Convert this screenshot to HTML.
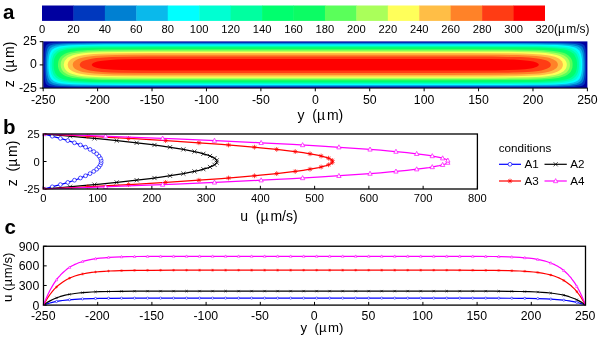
<!DOCTYPE html>
<html lang="en"><head><meta charset="utf-8"><title>Figure</title>
<style>html,body{margin:0;padding:0;background:#fff;}body{width:598px;height:337px;overflow:hidden;}</style>
</head><body>
<svg width="598" height="337" viewBox="0 0 598 337" style="display:block">
<rect x="0" y="0" width="598" height="337" fill="#ffffff"/>
<defs><clipPath id="cb"><rect x="42.75" y="133.4" width="435.25" height="56.20"/></clipPath><clipPath id="cc"><rect x="42.9" y="245.65" width="543.20" height="60.05"/></clipPath></defs>
<g>
<rect x="42.00" y="5.5" width="31.84" height="15.40" fill="#0000a0"/>
<rect x="73.44" y="5.5" width="31.84" height="15.40" fill="#0038be"/>
<rect x="104.88" y="5.5" width="31.84" height="15.40" fill="#0080d2"/>
<rect x="136.31" y="5.5" width="31.84" height="15.40" fill="#0ab9eb"/>
<rect x="167.75" y="5.5" width="31.84" height="15.40" fill="#00ffff"/>
<rect x="199.19" y="5.5" width="31.84" height="15.40" fill="#00ffd2"/>
<rect x="230.62" y="5.5" width="31.84" height="15.40" fill="#00ffa0"/>
<rect x="262.06" y="5.5" width="31.84" height="15.40" fill="#00ff6e"/>
<rect x="293.50" y="5.5" width="31.84" height="15.40" fill="#0cfc64"/>
<rect x="324.94" y="5.5" width="31.84" height="15.40" fill="#5aff5a"/>
<rect x="356.38" y="5.5" width="31.84" height="15.40" fill="#aaff5a"/>
<rect x="387.81" y="5.5" width="31.84" height="15.40" fill="#ffff5a"/>
<rect x="419.25" y="5.5" width="31.84" height="15.40" fill="#ffbe46"/>
<rect x="450.69" y="5.5" width="31.84" height="15.40" fill="#ff8228"/>
<rect x="482.12" y="5.5" width="31.84" height="15.40" fill="#ff3c14"/>
<rect x="513.56" y="5.5" width="31.44" height="15.40" fill="#ff0000"/>
</g>
<g font-family='"Liberation Sans", sans-serif' font-size="11.2" fill="#000" text-anchor="middle">
<text x="42.00" y="33.2">0</text>
<text x="73.44" y="33.2">20</text>
<text x="104.88" y="33.2">40</text>
<text x="136.31" y="33.2">60</text>
<text x="167.75" y="33.2">80</text>
<text x="199.19" y="33.2">100</text>
<text x="230.62" y="33.2">120</text>
<text x="262.06" y="33.2">140</text>
<text x="293.50" y="33.2">160</text>
<text x="324.94" y="33.2">180</text>
<text x="356.38" y="33.2">200</text>
<text x="387.81" y="33.2">220</text>
<text x="419.25" y="33.2">240</text>
<text x="450.69" y="33.2">260</text>
<text x="482.12" y="33.2">280</text>
<text x="513.56" y="33.2">300</text>
<text x="535.40" y="33.2" text-anchor="start">320<tspan font-size="11.9">(µ<tspan dx="1.4">m/s)</tspan></tspan></text>
</g>
<g>
<rect x="43.2" y="41.4" width="544.20" height="46.70" fill="#0000a0"/>
<path d="M563.1 87.2 544.3 87.3 509.2 87.4 110.5 87.3 71.4 87.2 61.5 87.0 55.1 86.8 50.6 86.3 49.2 86.0 48.2 85.6 47.2 85.1 46.4 84.3 45.9 83.4 45.5 82.5 45.1 80.8 44.8 78.7 44.5 72.1 44.4 61.3 44.7 52.7 45.1 48.9 45.7 46.5 46.1 45.6 46.6 44.9 47.2 44.4 47.9 44.0 49.1 43.5 50.1 43.3 53.6 42.8 58.6 42.5 66.5 42.4 85.8 42.2 123.9 42.1 541.8 42.2 561.2 42.3 572.5 42.6 576.5 42.8 579.0 43.0 581.0 43.4 582.4 43.9 583.4 44.4 584.0 44.9 584.5 45.6 584.9 46.6 585.3 47.7 585.6 49.1 586.0 53.4 586.1 57.8 586.2 63.5 586.1 74.3 585.9 77.5 585.6 80.1 585.2 82.0 584.7 83.4 584.0 84.6 583.1 85.3 582.0 85.8 580.0 86.3 577.5 86.6 574.0 86.9 563.1 87.2Z" fill="#0038be"/>
<path d="M546.3 86.5 489.4 86.6 117.5 86.6 80.3 86.4 69.4 86.2 62.0 85.9 58.6 85.7 55.6 85.4 53.6 85.0 51.8 84.6 50.6 84.1 49.4 83.4 48.4 82.5 47.7 81.5 47.2 80.3 46.6 78.5 46.2 76.1 45.9 73.6 45.7 70.0 45.6 66.0 45.7 61.8 45.8 57.8 46.3 52.9 46.7 50.8 47.1 49.4 47.7 48.1 48.4 47.0 49.1 46.3 50.1 45.6 51.6 45.0 53.1 44.6 57.1 43.9 63.0 43.5 71.9 43.2 92.7 43.0 132.8 42.9 486.9 42.9 541.8 43.0 560.7 43.3 567.1 43.5 571.6 43.8 575.0 44.1 578.0 44.7 580.0 45.4 581.5 46.3 582.4 47.3 583.0 48.2 583.5 49.4 584.0 51.0 584.4 53.1 584.6 55.5 584.9 61.8 584.9 69.6 584.7 73.1 584.4 75.9 584.0 78.2 583.6 79.9 582.9 81.4 582.2 82.5 581.5 83.2 580.9 83.6 580.0 84.1 579.0 84.5 576.5 85.1 573.5 85.6 569.1 85.9 563.6 86.2 546.3 86.5Z" fill="#0080d2"/>
<path d="M520.1 85.8 120.0 85.8 85.3 85.6 74.9 85.4 67.0 85.1 60.0 84.5 57.1 84.1 55.1 83.6 53.6 83.2 52.1 82.5 50.8 81.5 49.9 80.6 49.1 79.4 48.4 77.8 47.9 75.9 47.5 73.6 47.2 70.5 47.0 67.2 47.0 63.7 47.1 60.2 47.3 57.4 47.7 54.8 48.1 52.7 48.6 51.1 49.3 49.8 50.1 48.6 51.1 47.7 52.5 46.8 54.1 46.2 56.0 45.6 58.6 45.2 61.0 44.8 68.5 44.3 79.3 44.0 103.6 43.8 152.1 43.7 491.3 43.7 524.5 43.8 544.3 43.9 554.2 44.1 562.1 44.3 568.1 44.7 572.5 45.2 575.5 45.9 577.0 46.3 578.1 46.8 579.0 47.3 580.0 48.1 580.7 48.9 581.3 49.8 582.0 51.3 582.6 53.1 583.0 55.2 583.3 57.8 583.5 60.9 583.6 64.4 583.6 67.9 583.4 71.2 582.8 75.4 582.4 77.1 581.8 78.7 581.2 79.9 580.5 80.9 579.6 81.8 578.5 82.5 577.5 83.0 576.3 83.4 573.5 84.1 569.6 84.7 564.1 85.1 557.2 85.4 548.3 85.6 520.1 85.8Z" fill="#0ab9eb"/>
<path d="M535.9 84.8 479.9 85.0 131.3 85.0 93.2 84.8 81.3 84.6 72.9 84.3 65.0 83.8 61.7 83.4 59.0 82.9 57.1 82.5 55.1 81.8 53.6 81.0 52.5 80.1 51.4 78.9 50.5 77.5 49.8 75.9 49.2 73.8 48.8 71.2 48.5 68.4 48.4 65.3 48.5 62.1 48.7 59.2 49.0 56.7 49.5 54.5 50.2 52.7 51.1 51.0 52.0 49.8 53.1 48.9 54.6 48.0 56.1 47.4 58.1 46.8 60.5 46.3 63.5 45.9 67.0 45.5 71.4 45.2 82.3 44.9 105.1 44.6 149.7 44.5 484.4 44.5 537.9 44.7 548.8 44.9 557.2 45.1 563.6 45.5 568.6 46.0 572.0 46.7 575.0 47.6 576.0 48.0 577.2 48.7 578.1 49.4 579.0 50.3 579.8 51.5 580.5 52.9 581.1 54.5 581.5 56.4 581.9 58.8 582.1 61.3 582.2 64.2 582.1 67.0 582.0 69.6 581.7 71.7 581.4 73.6 580.9 75.4 580.4 76.8 579.7 78.2 578.8 79.4 577.8 80.4 577.0 81.0 576.0 81.5 573.5 82.5 570.6 83.1 566.6 83.7 561.7 84.1 555.2 84.4 546.8 84.7 535.9 84.8Z" fill="#00ffff"/>
<path d="M419.0 84.1 121.9 84.1 91.2 83.9 81.3 83.6 73.4 83.3 66.0 82.6 63.1 82.2 60.8 81.8 59.0 81.3 57.1 80.6 55.6 79.8 54.1 78.7 53.0 77.5 52.1 76.1 51.4 74.5 50.8 72.6 50.4 70.5 50.1 67.9 50.0 65.1 50.0 62.3 50.3 59.2 50.9 56.7 51.6 54.4 52.5 52.7 53.6 51.3 55.1 50.0 57.1 48.9 59.0 48.2 61.8 47.5 65.0 47.0 68.9 46.5 73.9 46.2 86.8 45.7 106.1 45.5 161.5 45.4 488.9 45.4 527.0 45.5 547.8 45.8 557.2 46.2 564.1 46.8 569.1 47.6 571.1 48.1 573.0 48.7 574.5 49.4 575.9 50.3 577.0 51.3 577.9 52.4 578.7 53.8 579.3 55.2 579.9 57.1 580.2 59.0 580.5 61.3 580.6 63.9 580.6 66.5 580.4 68.9 580.1 71.2 579.7 73.1 579.0 75.0 578.4 76.4 577.5 77.6 576.5 78.7 575.3 79.7 574.0 80.3 572.5 81.0 570.8 81.5 566.6 82.4 561.7 83.0 554.7 83.4 546.3 83.7 534.9 83.9 502.7 84.1 419.0 84.1Z" fill="#00ffd2"/>
<path d="M502.7 83.2 134.3 83.2 99.7 83.0 88.8 82.8 80.3 82.5 71.4 82.0 68.0 81.6 65.0 81.1 62.6 80.6 60.5 80.0 58.6 79.2 57.1 78.3 55.7 77.3 54.6 76.1 53.6 74.5 52.9 72.8 52.3 70.7 51.9 68.6 51.7 66.0 51.7 63.5 51.9 60.6 52.4 58.3 53.1 56.1 54.0 54.3 55.1 52.9 56.6 51.5 58.1 50.6 60.2 49.6 62.6 48.9 65.5 48.3 68.9 47.8 72.9 47.4 83.3 46.8 98.2 46.5 118.0 46.4 150.7 46.3 467.6 46.3 515.6 46.4 539.9 46.6 550.3 47.0 558.2 47.4 564.1 48.1 566.6 48.6 568.6 49.1 570.4 49.6 572.0 50.3 573.3 51.0 574.5 51.9 575.6 52.9 576.5 54.1 577.1 55.2 577.7 56.7 578.2 58.3 578.6 60.2 578.8 62.1 578.9 64.2 578.9 66.3 578.7 68.4 578.4 70.3 578.0 72.1 577.4 73.6 576.7 75.0 576.0 76.1 575.1 77.1 574.0 78.0 573.0 78.7 571.6 79.4 570.4 79.9 567.1 80.8 563.1 81.5 558.2 82.1 551.7 82.5 543.8 82.8 533.9 83.0 502.7 83.2Z" fill="#00ffa0"/>
<path d="M494.3 82.2 137.8 82.2 103.6 82.1 92.7 81.9 84.3 81.6 75.1 81.1 71.4 80.7 68.5 80.3 66.0 79.8 63.5 79.2 61.5 78.5 59.5 77.5 58.1 76.5 56.7 75.2 55.7 73.8 55.0 72.4 54.3 70.5 53.8 68.4 53.6 66.0 53.6 63.7 53.8 61.1 54.3 58.8 55.1 56.8 56.2 55.0 57.4 53.6 59.0 52.3 61.0 51.3 63.6 50.3 66.5 49.6 69.9 49.0 73.9 48.6 78.4 48.2 90.2 47.7 108.1 47.4 161.5 47.2 476.5 47.2 516.6 47.3 538.9 47.6 548.8 48.0 556.7 48.6 562.6 49.3 565.1 49.8 567.1 50.3 569.0 51.0 570.6 51.7 572.0 52.7 573.2 53.6 574.3 54.8 575.0 55.9 575.7 57.4 576.3 59.0 576.7 60.6 577.0 62.5 577.1 64.4 577.0 66.3 576.8 68.2 576.5 69.8 576.0 71.4 575.5 72.7 574.9 73.8 574.0 75.0 573.0 76.0 572.1 76.8 571.0 77.5 569.6 78.2 566.6 79.3 562.9 80.1 558.2 80.8 552.7 81.3 545.8 81.6 537.4 81.9 527.0 82.1 494.3 82.2Z" fill="#00ff6e"/>
<path d="M523.5 81.1 503.2 81.2 469.5 81.3 151.6 81.2 111.5 81.1 99.2 80.9 89.7 80.7 79.8 80.2 75.9 79.8 72.4 79.4 69.4 78.9 66.5 78.2 64.3 77.5 62.5 76.8 61.0 75.9 59.4 74.7 58.2 73.3 57.2 71.9 56.5 70.3 56.0 68.4 55.7 66.3 55.6 64.2 55.8 61.8 56.4 59.5 57.2 57.6 58.3 55.9 59.7 54.5 61.3 53.4 63.5 52.3 65.7 51.5 68.4 50.8 71.4 50.2 75.4 49.7 79.8 49.3 91.2 48.8 107.6 48.4 127.4 48.3 160.1 48.2 464.6 48.2 509.2 48.3 532.9 48.6 543.6 48.9 551.7 49.4 558.2 50.1 563.1 51.0 565.1 51.6 567.1 52.3 568.6 53.0 570.0 53.8 571.1 54.7 572.1 55.7 572.9 56.9 573.7 58.3 574.2 59.5 574.6 60.9 574.8 62.3 575.0 63.9 575.0 65.6 574.9 67.0 574.6 68.4 574.2 69.8 573.8 71.0 573.2 72.1 572.5 73.2 571.9 74.0 571.1 74.8 570.0 75.7 568.9 76.4 567.6 77.0 564.9 78.0 561.7 78.8 557.7 79.5 553.2 80.0 547.8 80.4 541.3 80.7 523.5 81.1Z" fill="#0cfc64"/>
<path d="M503.2 80.1 445.3 80.2 148.7 80.2 113.0 80.0 101.6 79.9 92.7 79.6 82.8 79.1 75.4 78.3 72.4 77.9 69.7 77.3 67.5 76.7 65.4 75.9 63.6 75.0 62.2 74.0 60.9 72.8 59.8 71.4 59.0 70.0 58.4 68.2 58.0 66.3 58.0 64.2 58.3 61.8 58.9 59.7 60.0 57.8 61.4 56.2 63.0 54.9 65.0 53.8 67.5 52.8 70.4 52.0 73.9 51.4 77.9 50.8 82.3 50.4 87.8 50.1 101.6 49.6 121.9 49.4 176.4 49.3 474.5 49.3 511.6 49.4 532.9 49.7 543.3 50.1 551.3 50.7 557.4 51.5 559.9 52.0 562.1 52.5 564.0 53.1 565.7 53.8 567.4 54.8 568.7 55.7 569.9 56.9 570.8 58.1 571.6 59.5 572.2 61.1 572.4 62.3 572.6 63.7 572.6 65.1 572.5 66.5 572.3 67.9 571.9 69.1 571.4 70.3 570.8 71.4 570.1 72.4 569.2 73.3 567.4 74.7 565.1 75.9 563.6 76.5 561.8 77.1 558.2 77.9 554.2 78.5 549.3 79.0 542.8 79.4 535.9 79.7 527.5 79.9 503.2 80.1Z" fill="#5aff5a"/>
<path d="M505.2 78.9 449.7 79.0 154.1 79.0 118.0 78.9 106.1 78.7 97.2 78.5 86.8 78.0 79.3 77.3 76.0 76.8 73.4 76.3 70.9 75.7 68.7 75.0 66.6 74.0 65.1 73.1 63.6 71.9 62.6 70.7 61.7 69.3 61.1 67.7 60.7 66.0 60.7 64.4 60.9 62.3 61.3 61.1 61.7 60.2 62.3 59.2 63.0 58.3 64.4 56.9 66.2 55.7 68.5 54.6 71.4 53.6 74.4 53.0 77.9 52.4 82.3 51.9 86.8 51.5 92.7 51.2 107.6 50.7 129.4 50.5 184.8 50.5 473.0 50.5 509.2 50.6 530.0 50.9 540.4 51.3 548.3 51.9 554.7 52.7 557.2 53.2 559.7 53.8 561.7 54.4 563.6 55.2 564.8 55.9 566.2 56.9 567.4 58.1 568.3 59.2 569.1 60.6 569.6 62.1 569.8 63.2 569.9 64.4 569.9 65.6 569.8 66.7 569.5 67.7 569.1 68.9 568.6 69.8 568.0 70.7 567.2 71.7 566.5 72.4 564.4 73.8 561.9 75.0 559.0 75.9 555.7 76.6 551.7 77.3 546.9 77.8 541.3 78.2 534.9 78.5 527.0 78.7 505.2 78.9Z" fill="#aaff5a"/>
<path d="M479.9 77.8 154.6 77.8 120.9 77.6 101.1 77.3 91.1 76.8 83.3 76.2 79.8 75.7 76.9 75.2 74.4 74.6 72.4 74.0 70.4 73.2 68.7 72.4 67.3 71.4 66.0 70.2 65.0 68.9 64.3 67.4 63.9 66.0 63.8 64.4 64.2 62.5 64.5 61.6 65.0 60.6 65.5 59.9 66.3 59.0 68.0 57.6 70.1 56.4 72.9 55.3 75.9 54.5 79.8 53.8 83.8 53.3 88.8 52.8 94.7 52.5 101.7 52.2 119.5 51.9 148.2 51.7 473.5 51.7 507.2 51.8 527.5 52.2 537.4 52.5 545.4 53.1 551.7 53.9 554.2 54.4 556.7 55.0 558.8 55.7 560.7 56.5 562.2 57.4 563.6 58.4 564.7 59.5 565.6 60.7 566.3 62.1 566.7 63.5 566.8 64.6 566.7 65.8 566.5 66.7 566.1 67.9 565.6 68.9 564.9 69.8 564.1 70.7 563.3 71.4 562.2 72.1 561.0 72.8 558.2 74.0 554.8 75.0 551.3 75.6 546.8 76.2 541.8 76.7 535.9 77.0 528.9 77.3 510.2 77.6 479.9 77.8Z" fill="#ffff5a"/>
<path d="M488.9 76.4 161.5 76.4 126.9 76.3 106.6 76.0 96.2 75.5 88.3 74.9 81.8 74.1 79.1 73.6 76.9 73.0 74.9 72.3 72.9 71.5 71.4 70.6 70.0 69.6 69.0 68.4 68.3 67.2 67.9 66.0 67.7 64.6 68.0 63.0 68.4 62.1 68.8 61.3 70.0 59.9 70.9 59.2 72.0 58.5 74.4 57.4 77.2 56.4 80.3 55.7 84.4 55.0 88.8 54.5 93.7 54.1 99.7 53.8 106.6 53.5 124.4 53.2 151.6 53.1 469.1 53.1 502.2 53.2 522.5 53.5 532.4 53.9 540.9 54.4 547.3 55.2 550.3 55.7 552.5 56.2 554.7 56.8 556.7 57.6 558.2 58.3 559.7 59.2 560.8 60.2 561.8 61.3 562.4 62.5 562.8 63.7 562.9 64.6 562.8 65.6 562.6 66.4 562.3 67.2 561.8 68.2 561.2 68.9 559.7 70.3 557.7 71.5 555.2 72.5 552.2 73.4 548.8 74.1 544.4 74.7 539.9 75.2 534.4 75.5 528.5 75.8 512.6 76.2 488.9 76.4Z" fill="#ffbe46"/>
<path d="M499.3 74.7 447.3 74.9 173.9 74.8 135.3 74.8 113.5 74.5 103.1 74.1 94.7 73.6 87.8 72.8 82.7 71.9 80.3 71.3 78.4 70.6 76.7 69.8 75.2 68.9 74.1 67.9 73.4 67.0 72.9 65.8 72.7 64.6 72.9 63.7 73.1 63.0 73.5 62.3 74.1 61.6 75.5 60.4 77.6 59.2 80.1 58.3 83.3 57.5 87.3 56.7 91.6 56.2 96.2 55.8 101.6 55.4 116.0 55.0 135.3 54.7 167.5 54.7 465.6 54.7 498.3 54.8 517.6 55.0 528.0 55.4 536.4 55.9 542.8 56.7 547.8 57.6 549.8 58.1 551.7 58.7 553.5 59.5 554.7 60.2 556.0 61.1 556.9 62.1 557.5 63.0 557.8 64.2 557.9 64.9 557.8 65.6 557.3 66.7 556.5 67.9 555.1 69.1 553.5 70.0 551.2 71.0 548.8 71.7 545.3 72.4 542.3 72.9 538.4 73.4 529.0 74.1 516.3 74.5 499.3 74.7Z" fill="#ff8228"/>
<path d="M496.8 72.8 445.8 73.0 184.8 73.0 143.7 72.9 120.9 72.7 110.5 72.4 101.8 71.9 95.2 71.3 89.9 70.5 87.8 70.0 85.3 69.3 83.5 68.6 82.3 68.0 81.1 67.2 80.4 66.5 79.9 65.6 79.8 64.6 79.9 63.9 80.3 63.2 81.3 62.1 83.0 61.1 85.3 60.2 88.3 59.4 91.7 58.7 96.2 58.1 100.6 57.7 111.5 57.1 126.9 56.7 147.7 56.6 183.8 56.5 459.6 56.5 491.3 56.6 510.6 56.9 520.6 57.1 528.8 57.6 535.4 58.2 540.7 59.0 542.8 59.5 544.8 60.0 546.6 60.6 548.1 61.3 549.2 62.1 550.0 62.8 550.5 63.5 550.8 64.4 550.8 65.1 550.7 65.6 550.2 66.5 549.2 67.4 547.8 68.3 546.0 69.1 543.8 69.8 541.3 70.4 538.4 70.9 531.7 71.7 523.0 72.2 512.1 72.6 496.8 72.8Z" fill="#ff3c14"/>
<path d="M479.0 70.5 428.4 70.6 190.8 70.6 153.6 70.5 132.8 70.3 122.4 70.1 114.0 69.8 107.5 69.3 101.6 68.7 97.4 67.9 95.7 67.4 94.3 67.0 93.2 66.5 92.3 65.8 91.9 65.3 91.8 64.6 92.1 63.9 92.6 63.5 93.3 63.0 94.3 62.5 97.2 61.6 100.6 61.0 105.0 60.4 110.5 59.9 117.0 59.6 124.9 59.3 141.2 59.1 165.5 59.0 315.1 58.9 465.1 59.0 489.4 59.1 505.7 59.3 513.6 59.6 520.1 59.9 525.6 60.4 530.0 61.0 533.4 61.6 536.3 62.5 537.3 63.0 538.0 63.5 538.5 63.9 538.8 64.6 538.7 65.3 538.0 66.0 536.8 66.7 535.4 67.3 533.2 67.9 530.8 68.4 525.0 69.2 517.6 69.7 508.2 70.1 495.8 70.4 479.0 70.5Z" fill="#ff0000"/>
</g>
<g>
<line x1="42.80" y1="41.40" x2="42.80" y2="88.60" stroke="#111" stroke-width="0.9"/>
<line x1="42.40" y1="88.10" x2="587.80" y2="88.10" stroke="#111" stroke-width="1.0"/>
<line x1="43.20" y1="88.10" x2="43.20" y2="91.30" stroke="#000" stroke-width="1.0"/>
<line x1="97.62" y1="88.10" x2="97.62" y2="91.30" stroke="#000" stroke-width="1.0"/>
<line x1="152.04" y1="88.10" x2="152.04" y2="91.30" stroke="#000" stroke-width="1.0"/>
<line x1="206.46" y1="88.10" x2="206.46" y2="91.30" stroke="#000" stroke-width="1.0"/>
<line x1="260.88" y1="88.10" x2="260.88" y2="91.30" stroke="#000" stroke-width="1.0"/>
<line x1="315.30" y1="88.10" x2="315.30" y2="91.30" stroke="#000" stroke-width="1.0"/>
<line x1="369.72" y1="88.10" x2="369.72" y2="91.30" stroke="#000" stroke-width="1.0"/>
<line x1="424.14" y1="88.10" x2="424.14" y2="91.30" stroke="#000" stroke-width="1.0"/>
<line x1="478.56" y1="88.10" x2="478.56" y2="91.30" stroke="#000" stroke-width="1.0"/>
<line x1="532.98" y1="88.10" x2="532.98" y2="91.30" stroke="#000" stroke-width="1.0"/>
<line x1="587.40" y1="88.10" x2="587.40" y2="91.30" stroke="#000" stroke-width="1.0"/>
<line x1="39.70" y1="88.10" x2="43.20" y2="88.10" stroke="#000" stroke-width="1.0"/>
<line x1="39.70" y1="64.90" x2="43.20" y2="64.90" stroke="#000" stroke-width="1.0"/>
<line x1="39.70" y1="41.70" x2="43.20" y2="41.70" stroke="#000" stroke-width="1.0"/>
</g>
<g font-family='"Liberation Sans", sans-serif' font-size="12.3" fill="#000">
<text x="43.20" y="103.7" text-anchor="middle">-250</text>
<text x="97.62" y="103.7" text-anchor="middle">-200</text>
<text x="152.04" y="103.7" text-anchor="middle">-150</text>
<text x="206.46" y="103.7" text-anchor="middle">-100</text>
<text x="260.88" y="103.7" text-anchor="middle">-50</text>
<text x="315.30" y="103.7" text-anchor="middle">0</text>
<text x="369.72" y="103.7" text-anchor="middle">50</text>
<text x="424.14" y="103.7" text-anchor="middle">100</text>
<text x="478.56" y="103.7" text-anchor="middle">150</text>
<text x="532.98" y="103.7" text-anchor="middle">200</text>
<text x="587.40" y="103.7" text-anchor="middle">250</text>
<text x="36.8" y="91.60" text-anchor="end">-25</text>
<text x="36.8" y="68.40" text-anchor="end">0</text>
<text x="36.8" y="45.20" text-anchor="end">25</text>
</g>
<g>
<line x1="43.35" y1="189.00" x2="43.35" y2="185.80" stroke="#000" stroke-width="1.0"/>
<line x1="97.61" y1="189.00" x2="97.61" y2="185.80" stroke="#000" stroke-width="1.0"/>
<line x1="151.86" y1="189.00" x2="151.86" y2="185.80" stroke="#000" stroke-width="1.0"/>
<line x1="206.12" y1="189.00" x2="206.12" y2="185.80" stroke="#000" stroke-width="1.0"/>
<line x1="260.38" y1="189.00" x2="260.38" y2="185.80" stroke="#000" stroke-width="1.0"/>
<line x1="314.63" y1="189.00" x2="314.63" y2="185.80" stroke="#000" stroke-width="1.0"/>
<line x1="368.89" y1="189.00" x2="368.89" y2="185.80" stroke="#000" stroke-width="1.0"/>
<line x1="423.14" y1="189.00" x2="423.14" y2="185.80" stroke="#000" stroke-width="1.0"/>
<line x1="477.40" y1="189.00" x2="477.40" y2="185.80" stroke="#000" stroke-width="1.0"/>
<line x1="43.35" y1="189.00" x2="46.55" y2="189.00" stroke="#000" stroke-width="1.0"/>
<line x1="43.35" y1="161.50" x2="46.55" y2="161.50" stroke="#000" stroke-width="1.0"/>
<line x1="43.35" y1="134.00" x2="46.55" y2="134.00" stroke="#000" stroke-width="1.0"/>
</g>
<g font-family='"Liberation Sans", sans-serif' font-size="11.2" fill="#000">
<text x="43.35" y="201.6" text-anchor="middle">0</text>
<text x="97.61" y="201.6" text-anchor="middle">100</text>
<text x="151.86" y="201.6" text-anchor="middle">200</text>
<text x="206.12" y="201.6" text-anchor="middle">300</text>
<text x="260.38" y="201.6" text-anchor="middle">400</text>
<text x="314.63" y="201.6" text-anchor="middle">500</text>
<text x="368.89" y="201.6" text-anchor="middle">600</text>
<text x="423.14" y="201.6" text-anchor="middle">700</text>
<text x="477.40" y="201.6" text-anchor="middle">800</text>
<text x="39.8" y="193.00" text-anchor="end">-25</text>
<text x="39.8" y="165.50" text-anchor="end">0</text>
<text x="39.8" y="138.00" text-anchor="end">25</text>
</g>
<g clip-path="url(#cb)">
<path d="M43.4 189.0 50.1 187.3 56.4 185.7 62.3 184.1 68.7 182.1 74.5 180.2 79.0 178.6 83.1 176.9 86.8 175.2 90.0 173.6 92.9 171.9 95.3 170.3 96.7 169.2 97.6 168.4 98.4 167.6 99.3 166.4 99.9 165.6 100.4 164.8 100.8 164.0 101.0 163.2 101.2 162.3 101.2 161.5 101.2 160.7 101.0 159.8 100.8 159.0 100.4 158.2 99.9 157.4 99.3 156.6 98.4 155.4 97.6 154.6 96.7 153.8 95.3 152.7 92.9 151.1 90.0 149.4 86.8 147.8 83.1 146.1 79.0 144.4 74.5 142.8 68.7 140.9 62.3 138.9 56.4 137.3 50.1 135.7 43.3 134.0" fill="none" stroke="#0000ff" stroke-width="1.2" stroke-linejoin="round"/>
<g><circle cx="43.35" cy="189.00" r="1.90" fill="#fff" stroke="#0000ff" stroke-width="0.70"/><circle cx="52.24" cy="186.80" r="1.90" fill="#fff" stroke="#0000ff" stroke-width="0.70"/><circle cx="60.39" cy="184.60" r="1.90" fill="#fff" stroke="#0000ff" stroke-width="0.70"/><circle cx="67.80" cy="182.40" r="1.90" fill="#fff" stroke="#0000ff" stroke-width="0.70"/><circle cx="74.46" cy="180.20" r="1.90" fill="#fff" stroke="#0000ff" stroke-width="0.70"/><circle cx="80.39" cy="178.00" r="1.90" fill="#fff" stroke="#0000ff" stroke-width="0.70"/><circle cx="85.57" cy="175.80" r="1.90" fill="#fff" stroke="#0000ff" stroke-width="0.70"/><circle cx="90.02" cy="173.60" r="1.90" fill="#fff" stroke="#0000ff" stroke-width="0.70"/><circle cx="93.72" cy="171.40" r="1.90" fill="#fff" stroke="#0000ff" stroke-width="0.70"/><circle cx="96.69" cy="169.20" r="1.90" fill="#fff" stroke="#0000ff" stroke-width="0.70"/><circle cx="98.91" cy="167.00" r="1.90" fill="#fff" stroke="#0000ff" stroke-width="0.70"/><circle cx="100.39" cy="164.80" r="1.90" fill="#fff" stroke="#0000ff" stroke-width="0.70"/><circle cx="101.13" cy="162.60" r="1.90" fill="#fff" stroke="#0000ff" stroke-width="0.70"/><circle cx="101.13" cy="160.40" r="1.90" fill="#fff" stroke="#0000ff" stroke-width="0.70"/><circle cx="100.39" cy="158.20" r="1.90" fill="#fff" stroke="#0000ff" stroke-width="0.70"/><circle cx="98.91" cy="156.00" r="1.90" fill="#fff" stroke="#0000ff" stroke-width="0.70"/><circle cx="96.69" cy="153.80" r="1.90" fill="#fff" stroke="#0000ff" stroke-width="0.70"/><circle cx="93.72" cy="151.60" r="1.90" fill="#fff" stroke="#0000ff" stroke-width="0.70"/><circle cx="90.02" cy="149.40" r="1.90" fill="#fff" stroke="#0000ff" stroke-width="0.70"/><circle cx="85.57" cy="147.20" r="1.90" fill="#fff" stroke="#0000ff" stroke-width="0.70"/><circle cx="80.39" cy="145.00" r="1.90" fill="#fff" stroke="#0000ff" stroke-width="0.70"/><circle cx="74.46" cy="142.80" r="1.90" fill="#fff" stroke="#0000ff" stroke-width="0.70"/><circle cx="67.80" cy="140.60" r="1.90" fill="#fff" stroke="#0000ff" stroke-width="0.70"/><circle cx="60.39" cy="138.40" r="1.90" fill="#fff" stroke="#0000ff" stroke-width="0.70"/><circle cx="52.24" cy="136.20" r="1.90" fill="#fff" stroke="#0000ff" stroke-width="0.70"/><circle cx="43.35" cy="134.00" r="1.90" fill="#fff" stroke="#0000ff" stroke-width="0.70"/></g>
<path d="M43.4 189.0 63.6 187.3 82.5 185.7 100.2 184.1 119.3 182.1 136.7 180.2 150.2 178.6 162.5 176.9 173.6 175.2 183.4 173.6 191.9 171.9 195.7 171.1 199.2 170.3 203.4 169.2 206.1 168.4 208.6 167.6 211.3 166.4 213.1 165.6 214.5 164.8 215.6 164.0 216.3 163.2 216.5 162.9 216.8 162.3 216.9 162.1 217.0 161.5 216.9 160.9 216.8 160.7 216.5 160.1 216.3 159.8 215.6 159.0 214.5 158.2 213.1 157.4 211.3 156.6 208.6 155.4 206.1 154.6 203.4 153.8 199.2 152.7 195.7 151.9 191.9 151.1 183.4 149.4 173.6 147.8 162.5 146.1 150.2 144.4 136.7 142.8 119.3 140.9 100.2 138.9 82.5 137.3 63.6 135.7 43.3 134.0" fill="none" stroke="#000000" stroke-width="1.2" stroke-linejoin="round"/>
<g><path d="M41.25 186.90L45.45 191.10M41.25 191.10L45.45 186.90" stroke="#000000" stroke-width="0.7" fill="none"/><path d="M67.92 184.70L72.12 188.90M67.92 188.90L72.12 184.70" stroke="#000000" stroke-width="0.7" fill="none"/><path d="M92.36 182.50L96.56 186.70M92.36 186.70L96.56 182.50" stroke="#000000" stroke-width="0.7" fill="none"/><path d="M114.59 180.30L118.79 184.50M114.59 184.50L118.79 180.30" stroke="#000000" stroke-width="0.7" fill="none"/><path d="M134.59 178.10L138.79 182.30M134.59 182.30L138.79 178.10" stroke="#000000" stroke-width="0.7" fill="none"/><path d="M152.37 175.90L156.57 180.10M152.37 180.10L156.57 175.90" stroke="#000000" stroke-width="0.7" fill="none"/><path d="M167.92 173.70L172.12 177.90M167.92 177.90L172.12 173.70" stroke="#000000" stroke-width="0.7" fill="none"/><path d="M181.26 171.50L185.46 175.70M181.26 175.70L185.46 171.50" stroke="#000000" stroke-width="0.7" fill="none"/><path d="M192.37 169.30L196.57 173.50M192.37 173.50L196.57 169.30" stroke="#000000" stroke-width="0.7" fill="none"/><path d="M201.26 167.10L205.46 171.30M201.26 171.30L205.46 167.10" stroke="#000000" stroke-width="0.7" fill="none"/><path d="M207.93 164.90L212.13 169.10M207.93 169.10L212.13 164.90" stroke="#000000" stroke-width="0.7" fill="none"/><path d="M212.37 162.70L216.57 166.90M212.37 166.90L216.57 162.70" stroke="#000000" stroke-width="0.7" fill="none"/><path d="M214.59 160.50L218.79 164.70M214.59 164.70L218.79 160.50" stroke="#000000" stroke-width="0.7" fill="none"/><path d="M214.59 158.30L218.79 162.50M214.59 162.50L218.79 158.30" stroke="#000000" stroke-width="0.7" fill="none"/><path d="M212.37 156.10L216.57 160.30M212.37 160.30L216.57 156.10" stroke="#000000" stroke-width="0.7" fill="none"/><path d="M207.93 153.90L212.13 158.10M207.93 158.10L212.13 153.90" stroke="#000000" stroke-width="0.7" fill="none"/><path d="M201.26 151.70L205.46 155.90M201.26 155.90L205.46 151.70" stroke="#000000" stroke-width="0.7" fill="none"/><path d="M192.37 149.50L196.57 153.70M192.37 153.70L196.57 149.50" stroke="#000000" stroke-width="0.7" fill="none"/><path d="M181.26 147.30L185.46 151.50M181.26 151.50L185.46 147.30" stroke="#000000" stroke-width="0.7" fill="none"/><path d="M167.92 145.10L172.12 149.30M167.92 149.30L172.12 145.10" stroke="#000000" stroke-width="0.7" fill="none"/><path d="M152.37 142.90L156.57 147.10M152.37 147.10L156.57 142.90" stroke="#000000" stroke-width="0.7" fill="none"/><path d="M134.59 140.70L138.79 144.90M134.59 144.90L138.79 140.70" stroke="#000000" stroke-width="0.7" fill="none"/><path d="M114.59 138.50L118.79 142.70M114.59 142.70L118.79 138.50" stroke="#000000" stroke-width="0.7" fill="none"/><path d="M92.36 136.30L96.56 140.50M92.36 140.50L96.56 136.30" stroke="#000000" stroke-width="0.7" fill="none"/><path d="M67.92 134.10L72.12 138.30M67.92 138.30L72.12 134.10" stroke="#000000" stroke-width="0.7" fill="none"/><path d="M41.25 131.90L45.45 136.10M41.25 136.10L45.45 131.90" stroke="#000000" stroke-width="0.7" fill="none"/></g>
<path d="M43.4 189.0 77.0 187.3 108.6 185.7 138.1 184.1 169.9 182.1 198.9 180.2 221.5 178.6 242.0 176.9 260.4 175.2 276.7 173.6 290.9 171.9 297.3 171.1 303.1 170.3 310.0 169.2 314.6 168.4 318.7 167.6 323.3 166.4 326.2 165.6 328.5 164.8 330.4 164.0 330.9 163.7 331.7 163.2 332.0 162.9 332.5 162.3 332.6 162.1 332.7 161.5 332.6 160.9 332.5 160.7 332.0 160.1 331.7 159.8 330.9 159.3 330.4 159.0 328.5 158.2 326.2 157.4 323.3 156.6 318.7 155.4 314.6 154.6 310.0 153.8 303.1 152.7 297.3 151.9 290.9 151.1 276.7 149.4 260.4 147.8 242.0 146.1 221.5 144.4 198.9 142.8 169.9 140.9 138.1 138.9 108.6 137.3 77.0 135.7 43.3 134.0" fill="none" stroke="#ff0000" stroke-width="1.2" stroke-linejoin="round"/>
<g><path d="M40.95 189.00L45.75 189.00M43.35 186.60L43.35 191.40M41.67 187.32L45.03 190.68M41.67 190.68L45.03 187.32" stroke="#ff0000" stroke-width="0.7" fill="none"/><path d="M85.40 186.80L90.20 186.80M87.80 184.40L87.80 189.20M86.12 185.12L89.48 188.48M86.12 188.48L89.48 185.12" stroke="#ff0000" stroke-width="0.7" fill="none"/><path d="M126.14 184.60L130.94 184.60M128.54 182.20L128.54 187.00M126.86 182.92L130.22 186.28M126.86 186.28L130.22 182.92" stroke="#ff0000" stroke-width="0.7" fill="none"/><path d="M163.18 182.40L167.98 182.40M165.58 180.00L165.58 184.80M163.90 180.72L167.26 184.08M163.90 184.08L167.26 180.72" stroke="#ff0000" stroke-width="0.7" fill="none"/><path d="M196.51 180.20L201.31 180.20M198.91 177.80L198.91 182.60M197.23 178.52L200.59 181.88M197.23 181.88L200.59 178.52" stroke="#ff0000" stroke-width="0.7" fill="none"/><path d="M226.14 178.00L230.94 178.00M228.54 175.60L228.54 180.40M226.86 176.32L230.22 179.68M226.86 179.68L230.22 176.32" stroke="#ff0000" stroke-width="0.7" fill="none"/><path d="M252.07 175.80L256.87 175.80M254.47 173.40L254.47 178.20M252.79 174.12L256.15 177.48M252.79 177.48L256.15 174.12" stroke="#ff0000" stroke-width="0.7" fill="none"/><path d="M274.30 173.60L279.10 173.60M276.70 171.20L276.70 176.00M275.02 171.92L278.38 175.28M275.02 175.28L278.38 171.92" stroke="#ff0000" stroke-width="0.7" fill="none"/><path d="M292.81 171.40L297.61 171.40M295.21 169.00L295.21 173.80M293.53 169.72L296.89 173.08M293.53 173.08L296.89 169.72" stroke="#ff0000" stroke-width="0.7" fill="none"/><path d="M307.63 169.20L312.43 169.20M310.03 166.80L310.03 171.60M308.35 167.52L311.71 170.88M308.35 170.88L311.71 167.52" stroke="#ff0000" stroke-width="0.7" fill="none"/><path d="M318.74 167.00L323.54 167.00M321.14 164.60L321.14 169.40M319.46 165.32L322.82 168.68M319.46 168.68L322.82 165.32" stroke="#ff0000" stroke-width="0.7" fill="none"/><path d="M326.15 164.80L330.95 164.80M328.55 162.40L328.55 167.20M326.87 163.12L330.23 166.48M326.87 166.48L330.23 163.12" stroke="#ff0000" stroke-width="0.7" fill="none"/><path d="M329.85 162.60L334.65 162.60M332.25 160.20L332.25 165.00M330.57 160.92L333.93 164.28M330.57 164.28L333.93 160.92" stroke="#ff0000" stroke-width="0.7" fill="none"/><path d="M329.85 160.40L334.65 160.40M332.25 158.00L332.25 162.80M330.57 158.72L333.93 162.08M330.57 162.08L333.93 158.72" stroke="#ff0000" stroke-width="0.7" fill="none"/><path d="M326.15 158.20L330.95 158.20M328.55 155.80L328.55 160.60M326.87 156.52L330.23 159.88M326.87 159.88L330.23 156.52" stroke="#ff0000" stroke-width="0.7" fill="none"/><path d="M318.74 156.00L323.54 156.00M321.14 153.60L321.14 158.40M319.46 154.32L322.82 157.68M319.46 157.68L322.82 154.32" stroke="#ff0000" stroke-width="0.7" fill="none"/><path d="M307.63 153.80L312.43 153.80M310.03 151.40L310.03 156.20M308.35 152.12L311.71 155.48M308.35 155.48L311.71 152.12" stroke="#ff0000" stroke-width="0.7" fill="none"/><path d="M292.81 151.60L297.61 151.60M295.21 149.20L295.21 154.00M293.53 149.92L296.89 153.28M293.53 153.28L296.89 149.92" stroke="#ff0000" stroke-width="0.7" fill="none"/><path d="M274.30 149.40L279.10 149.40M276.70 147.00L276.70 151.80M275.02 147.72L278.38 151.08M275.02 151.08L278.38 147.72" stroke="#ff0000" stroke-width="0.7" fill="none"/><path d="M252.07 147.20L256.87 147.20M254.47 144.80L254.47 149.60M252.79 145.52L256.15 148.88M252.79 148.88L256.15 145.52" stroke="#ff0000" stroke-width="0.7" fill="none"/><path d="M226.14 145.00L230.94 145.00M228.54 142.60L228.54 147.40M226.86 143.32L230.22 146.68M226.86 146.68L230.22 143.32" stroke="#ff0000" stroke-width="0.7" fill="none"/><path d="M196.51 142.80L201.31 142.80M198.91 140.40L198.91 145.20M197.23 141.12L200.59 144.48M197.23 144.48L200.59 141.12" stroke="#ff0000" stroke-width="0.7" fill="none"/><path d="M163.18 140.60L167.98 140.60M165.58 138.20L165.58 143.00M163.90 138.92L167.26 142.28M163.90 142.28L167.26 138.92" stroke="#ff0000" stroke-width="0.7" fill="none"/><path d="M126.14 138.40L130.94 138.40M128.54 136.00L128.54 140.80M126.86 136.72L130.22 140.08M126.86 140.08L130.22 136.72" stroke="#ff0000" stroke-width="0.7" fill="none"/><path d="M85.40 136.20L90.20 136.20M87.80 133.80L87.80 138.60M86.12 134.52L89.48 137.88M86.12 137.88L89.48 134.52" stroke="#ff0000" stroke-width="0.7" fill="none"/><path d="M40.95 134.00L45.75 134.00M43.35 131.60L43.35 136.40M41.67 132.32L45.03 135.68M41.67 135.68L45.03 132.32" stroke="#ff0000" stroke-width="0.7" fill="none"/></g>
<path d="M43.4 189.0 90.5 187.3 134.7 185.7 176.1 184.1 220.6 182.1 261.1 180.2 292.7 178.6 321.4 176.9 347.2 175.2 370.0 173.6 380.4 172.8 390.0 171.9 398.8 171.1 407.0 170.3 416.7 169.2 423.1 168.4 428.9 167.6 435.3 166.4 439.3 165.6 442.6 164.8 445.2 164.0 445.9 163.7 447.0 163.2 447.5 162.9 448.1 162.3 448.3 162.1 448.4 161.8 448.5 161.5 448.4 161.2 448.3 160.9 448.1 160.7 447.5 160.1 447.0 159.8 445.9 159.3 445.2 159.0 442.6 158.2 439.3 157.4 435.3 156.6 428.9 155.4 423.1 154.6 416.7 153.8 407.0 152.7 398.8 151.9 390.0 151.1 380.4 150.2 370.0 149.4 347.2 147.8 321.4 146.1 292.7 144.4 261.1 142.8 220.6 140.9 176.1 138.9 134.7 137.3 90.5 135.7 43.3 134.0" fill="none" stroke="#ff00ff" stroke-width="1.2" stroke-linejoin="round"/>
<g><path d="M43.35 186.60L45.51 190.68L41.19 190.68Z" fill="#fff" stroke="#ff00ff" stroke-width="0.70"/><path d="M105.58 184.40L107.74 188.48L103.42 188.48Z" fill="#fff" stroke="#ff00ff" stroke-width="0.70"/><path d="M162.62 182.20L164.78 186.28L160.46 186.28Z" fill="#fff" stroke="#ff00ff" stroke-width="0.70"/><path d="M214.47 180.00L216.63 184.08L212.31 184.08Z" fill="#fff" stroke="#ff00ff" stroke-width="0.70"/><path d="M261.14 177.80L263.30 181.88L258.98 181.88Z" fill="#fff" stroke="#ff00ff" stroke-width="0.70"/><path d="M302.62 175.60L304.78 179.68L300.46 179.68Z" fill="#fff" stroke="#ff00ff" stroke-width="0.70"/><path d="M338.92 173.40L341.08 177.48L336.76 177.48Z" fill="#fff" stroke="#ff00ff" stroke-width="0.70"/><path d="M370.03 171.20L372.19 175.28L367.87 175.28Z" fill="#fff" stroke="#ff00ff" stroke-width="0.70"/><path d="M395.96 169.00L398.12 173.08L393.80 173.08Z" fill="#fff" stroke="#ff00ff" stroke-width="0.70"/><path d="M416.70 166.80L418.86 170.88L414.54 170.88Z" fill="#fff" stroke="#ff00ff" stroke-width="0.70"/><path d="M432.26 164.60L434.42 168.68L430.10 168.68Z" fill="#fff" stroke="#ff00ff" stroke-width="0.70"/><path d="M442.63 162.40L444.79 166.48L440.47 166.48Z" fill="#fff" stroke="#ff00ff" stroke-width="0.70"/><path d="M447.82 160.20L449.98 164.28L445.66 164.28Z" fill="#fff" stroke="#ff00ff" stroke-width="0.70"/><path d="M447.82 158.00L449.98 162.08L445.66 162.08Z" fill="#fff" stroke="#ff00ff" stroke-width="0.70"/><path d="M442.63 155.80L444.79 159.88L440.47 159.88Z" fill="#fff" stroke="#ff00ff" stroke-width="0.70"/><path d="M432.26 153.60L434.42 157.68L430.10 157.68Z" fill="#fff" stroke="#ff00ff" stroke-width="0.70"/><path d="M416.70 151.40L418.86 155.48L414.54 155.48Z" fill="#fff" stroke="#ff00ff" stroke-width="0.70"/><path d="M395.96 149.20L398.12 153.28L393.80 153.28Z" fill="#fff" stroke="#ff00ff" stroke-width="0.70"/><path d="M370.03 147.00L372.19 151.08L367.87 151.08Z" fill="#fff" stroke="#ff00ff" stroke-width="0.70"/><path d="M338.92 144.80L341.08 148.88L336.76 148.88Z" fill="#fff" stroke="#ff00ff" stroke-width="0.70"/><path d="M302.62 142.60L304.78 146.68L300.46 146.68Z" fill="#fff" stroke="#ff00ff" stroke-width="0.70"/><path d="M261.14 140.40L263.30 144.48L258.98 144.48Z" fill="#fff" stroke="#ff00ff" stroke-width="0.70"/><path d="M214.47 138.20L216.63 142.28L212.31 142.28Z" fill="#fff" stroke="#ff00ff" stroke-width="0.70"/><path d="M162.62 136.00L164.78 140.08L160.46 140.08Z" fill="#fff" stroke="#ff00ff" stroke-width="0.70"/><path d="M105.58 133.80L107.74 137.88L103.42 137.88Z" fill="#fff" stroke="#ff00ff" stroke-width="0.70"/><path d="M43.35 131.60L45.51 135.68L41.19 135.68Z" fill="#fff" stroke="#ff00ff" stroke-width="0.70"/></g>
</g>
<rect x="43.35" y="134.0" width="434.05" height="55.00" fill="none" stroke="#000" stroke-width="1.3"/>
<g>
<line x1="43.50" y1="305.10" x2="43.50" y2="301.90" stroke="#000" stroke-width="1.0"/>
<line x1="97.70" y1="305.10" x2="97.70" y2="301.90" stroke="#000" stroke-width="1.0"/>
<line x1="151.90" y1="305.10" x2="151.90" y2="301.90" stroke="#000" stroke-width="1.0"/>
<line x1="206.10" y1="305.10" x2="206.10" y2="301.90" stroke="#000" stroke-width="1.0"/>
<line x1="260.30" y1="305.10" x2="260.30" y2="301.90" stroke="#000" stroke-width="1.0"/>
<line x1="314.50" y1="305.10" x2="314.50" y2="301.90" stroke="#000" stroke-width="1.0"/>
<line x1="368.70" y1="305.10" x2="368.70" y2="301.90" stroke="#000" stroke-width="1.0"/>
<line x1="422.90" y1="305.10" x2="422.90" y2="301.90" stroke="#000" stroke-width="1.0"/>
<line x1="477.10" y1="305.10" x2="477.10" y2="301.90" stroke="#000" stroke-width="1.0"/>
<line x1="531.30" y1="305.10" x2="531.30" y2="301.90" stroke="#000" stroke-width="1.0"/>
<line x1="585.50" y1="305.10" x2="585.50" y2="301.90" stroke="#000" stroke-width="1.0"/>
<line x1="43.50" y1="305.10" x2="46.70" y2="305.10" stroke="#000" stroke-width="1.0"/>
<line x1="43.50" y1="285.48" x2="46.70" y2="285.48" stroke="#000" stroke-width="1.0"/>
<line x1="43.50" y1="265.87" x2="46.70" y2="265.87" stroke="#000" stroke-width="1.0"/>
<line x1="43.50" y1="246.25" x2="46.70" y2="246.25" stroke="#000" stroke-width="1.0"/>
</g>
<g font-family='"Liberation Sans", sans-serif' font-size="12.3" fill="#000">
<text x="43.20" y="319.7" text-anchor="middle">-250</text>
<text x="97.40" y="319.7" text-anchor="middle">-200</text>
<text x="151.60" y="319.7" text-anchor="middle">-150</text>
<text x="205.80" y="319.7" text-anchor="middle">-100</text>
<text x="260.00" y="319.7" text-anchor="middle">-50</text>
<text x="314.20" y="319.7" text-anchor="middle">0</text>
<text x="368.40" y="319.7" text-anchor="middle">50</text>
<text x="422.60" y="319.7" text-anchor="middle">100</text>
<text x="476.80" y="319.7" text-anchor="middle">150</text>
<text x="531.00" y="319.7" text-anchor="middle">200</text>
<text x="585.20" y="319.7" text-anchor="middle">250</text>
<text x="39.3" y="309.50" text-anchor="end">0</text>
<text x="39.3" y="289.88" text-anchor="end">300</text>
<text x="39.3" y="270.27" text-anchor="end">600</text>
<text x="39.3" y="250.65" text-anchor="end">900</text>
</g>
<g clip-path="url(#cc)">
<path d="M43.5 305.1 45.7 304.3 47.8 303.6 50.0 303.0 52.2 302.4 54.3 301.9 57.0 301.4 59.8 300.9 62.5 300.5 68.4 299.8 74.9 299.3 82.5 298.9 91.7 298.6 99.9 298.4 109.1 298.3 135.6 298.2 314.5 298.1 493.4 298.2 519.9 298.3 529.1 298.4 537.3 298.6 546.5 298.9 554.1 299.3 560.6 299.8 566.5 300.5 569.2 300.9 571.9 301.4 574.7 301.9 576.8 302.4 579.0 303.0 581.2 303.6 583.3 304.3 585.5 305.1" fill="none" stroke="#0000ff" stroke-width="1.2" stroke-linejoin="round"/>
<g><circle cx="43.50" cy="305.10" r="1.10" fill="#fff" stroke="#0000ff" stroke-width="0.56"/><circle cx="56.51" cy="301.49" r="1.10" fill="#fff" stroke="#0000ff" stroke-width="0.56"/><circle cx="69.52" cy="299.72" r="1.10" fill="#fff" stroke="#0000ff" stroke-width="0.56"/><circle cx="82.52" cy="298.87" r="1.10" fill="#fff" stroke="#0000ff" stroke-width="0.56"/><circle cx="95.53" cy="298.48" r="1.10" fill="#fff" stroke="#0000ff" stroke-width="0.56"/><circle cx="108.54" cy="298.29" r="1.10" fill="#fff" stroke="#0000ff" stroke-width="0.56"/><circle cx="121.55" cy="298.20" r="1.10" fill="#fff" stroke="#0000ff" stroke-width="0.56"/><circle cx="134.56" cy="298.16" r="1.10" fill="#fff" stroke="#0000ff" stroke-width="0.56"/><circle cx="147.56" cy="298.14" r="1.10" fill="#fff" stroke="#0000ff" stroke-width="0.56"/><circle cx="160.57" cy="298.13" r="1.10" fill="#fff" stroke="#0000ff" stroke-width="0.56"/><circle cx="173.58" cy="298.13" r="1.10" fill="#fff" stroke="#0000ff" stroke-width="0.56"/><circle cx="186.59" cy="298.13" r="1.10" fill="#fff" stroke="#0000ff" stroke-width="0.56"/><circle cx="199.60" cy="298.13" r="1.10" fill="#fff" stroke="#0000ff" stroke-width="0.56"/><circle cx="212.60" cy="298.13" r="1.10" fill="#fff" stroke="#0000ff" stroke-width="0.56"/><circle cx="225.61" cy="298.13" r="1.10" fill="#fff" stroke="#0000ff" stroke-width="0.56"/><circle cx="238.62" cy="298.13" r="1.10" fill="#fff" stroke="#0000ff" stroke-width="0.56"/><circle cx="251.63" cy="298.13" r="1.10" fill="#fff" stroke="#0000ff" stroke-width="0.56"/><circle cx="264.64" cy="298.13" r="1.10" fill="#fff" stroke="#0000ff" stroke-width="0.56"/><circle cx="277.64" cy="298.13" r="1.10" fill="#fff" stroke="#0000ff" stroke-width="0.56"/><circle cx="290.65" cy="298.13" r="1.10" fill="#fff" stroke="#0000ff" stroke-width="0.56"/><circle cx="303.66" cy="298.13" r="1.10" fill="#fff" stroke="#0000ff" stroke-width="0.56"/><circle cx="316.67" cy="298.13" r="1.10" fill="#fff" stroke="#0000ff" stroke-width="0.56"/><circle cx="329.68" cy="298.13" r="1.10" fill="#fff" stroke="#0000ff" stroke-width="0.56"/><circle cx="342.68" cy="298.13" r="1.10" fill="#fff" stroke="#0000ff" stroke-width="0.56"/><circle cx="355.69" cy="298.13" r="1.10" fill="#fff" stroke="#0000ff" stroke-width="0.56"/><circle cx="368.70" cy="298.13" r="1.10" fill="#fff" stroke="#0000ff" stroke-width="0.56"/><circle cx="381.71" cy="298.13" r="1.10" fill="#fff" stroke="#0000ff" stroke-width="0.56"/><circle cx="394.72" cy="298.13" r="1.10" fill="#fff" stroke="#0000ff" stroke-width="0.56"/><circle cx="407.72" cy="298.13" r="1.10" fill="#fff" stroke="#0000ff" stroke-width="0.56"/><circle cx="420.73" cy="298.13" r="1.10" fill="#fff" stroke="#0000ff" stroke-width="0.56"/><circle cx="433.74" cy="298.13" r="1.10" fill="#fff" stroke="#0000ff" stroke-width="0.56"/><circle cx="446.75" cy="298.13" r="1.10" fill="#fff" stroke="#0000ff" stroke-width="0.56"/><circle cx="459.76" cy="298.13" r="1.10" fill="#fff" stroke="#0000ff" stroke-width="0.56"/><circle cx="472.76" cy="298.14" r="1.10" fill="#fff" stroke="#0000ff" stroke-width="0.56"/><circle cx="485.77" cy="298.15" r="1.10" fill="#fff" stroke="#0000ff" stroke-width="0.56"/><circle cx="498.78" cy="298.17" r="1.10" fill="#fff" stroke="#0000ff" stroke-width="0.56"/><circle cx="511.79" cy="298.23" r="1.10" fill="#fff" stroke="#0000ff" stroke-width="0.56"/><circle cx="524.80" cy="298.34" r="1.10" fill="#fff" stroke="#0000ff" stroke-width="0.56"/><circle cx="537.80" cy="298.58" r="1.10" fill="#fff" stroke="#0000ff" stroke-width="0.56"/><circle cx="550.81" cy="299.09" r="1.10" fill="#fff" stroke="#0000ff" stroke-width="0.56"/><circle cx="563.82" cy="300.17" r="1.10" fill="#fff" stroke="#0000ff" stroke-width="0.56"/><circle cx="576.83" cy="302.42" r="1.10" fill="#fff" stroke="#0000ff" stroke-width="0.56"/></g>
<path d="M43.5 305.1 45.7 303.5 47.8 302.1 50.0 300.9 52.2 299.7 54.3 298.8 57.0 297.7 59.8 296.7 62.5 295.9 65.2 295.2 68.4 294.5 71.7 294.0 74.9 293.5 78.7 293.0 82.5 292.6 86.9 292.3 91.7 292.0 99.9 291.7 109.1 291.5 120.5 291.3 135.6 291.2 175.7 291.2 314.5 291.2 453.3 291.2 493.4 291.2 508.5 291.3 519.9 291.5 529.1 291.7 537.3 292.0 542.1 292.3 546.5 292.6 550.3 293.0 554.1 293.5 557.3 294.0 560.6 294.5 563.8 295.2 566.5 295.9 569.2 296.7 571.9 297.7 574.7 298.8 576.8 299.7 579.0 300.9 581.2 302.1 583.3 303.5 585.5 305.1" fill="none" stroke="#000000" stroke-width="1.2" stroke-linejoin="round"/>
<g><path d="M42.28 303.88L44.72 306.32M42.28 306.32L44.72 303.88" stroke="#000000" stroke-width="0.55" fill="none"/><path d="M55.29 296.65L57.73 299.09M55.29 299.09L57.73 296.65" stroke="#000000" stroke-width="0.55" fill="none"/><path d="M68.30 293.11L70.73 295.55M68.30 295.55L70.73 293.11" stroke="#000000" stroke-width="0.55" fill="none"/><path d="M81.31 291.43L83.74 293.87M81.31 293.87L83.74 291.43" stroke="#000000" stroke-width="0.55" fill="none"/><path d="M94.31 290.64L96.75 293.07M94.31 293.07L96.75 290.64" stroke="#000000" stroke-width="0.55" fill="none"/><path d="M107.32 290.26L109.76 292.70M107.32 292.70L109.76 290.26" stroke="#000000" stroke-width="0.55" fill="none"/><path d="M120.33 290.09L122.77 292.52M120.33 292.52L122.77 290.09" stroke="#000000" stroke-width="0.55" fill="none"/><path d="M133.34 290.01L135.77 292.44M133.34 292.44L135.77 290.01" stroke="#000000" stroke-width="0.55" fill="none"/><path d="M146.35 289.97L148.78 292.40M146.35 292.40L148.78 289.97" stroke="#000000" stroke-width="0.55" fill="none"/><path d="M159.35 289.95L161.79 292.38M159.35 292.38L161.79 289.95" stroke="#000000" stroke-width="0.55" fill="none"/><path d="M172.36 289.94L174.80 292.38M172.36 292.38L174.80 289.94" stroke="#000000" stroke-width="0.55" fill="none"/><path d="M185.37 289.94L187.81 292.37M185.37 292.37L187.81 289.94" stroke="#000000" stroke-width="0.55" fill="none"/><path d="M198.38 289.93L200.81 292.37M198.38 292.37L200.81 289.93" stroke="#000000" stroke-width="0.55" fill="none"/><path d="M211.39 289.93L213.82 292.37M211.39 292.37L213.82 289.93" stroke="#000000" stroke-width="0.55" fill="none"/><path d="M224.39 289.93L226.83 292.37M224.39 292.37L226.83 289.93" stroke="#000000" stroke-width="0.55" fill="none"/><path d="M237.40 289.93L239.84 292.37M237.40 292.37L239.84 289.93" stroke="#000000" stroke-width="0.55" fill="none"/><path d="M250.41 289.93L252.85 292.37M250.41 292.37L252.85 289.93" stroke="#000000" stroke-width="0.55" fill="none"/><path d="M263.42 289.93L265.85 292.37M263.42 292.37L265.85 289.93" stroke="#000000" stroke-width="0.55" fill="none"/><path d="M276.43 289.93L278.86 292.37M276.43 292.37L278.86 289.93" stroke="#000000" stroke-width="0.55" fill="none"/><path d="M289.43 289.93L291.87 292.37M289.43 292.37L291.87 289.93" stroke="#000000" stroke-width="0.55" fill="none"/><path d="M302.44 289.93L304.88 292.37M302.44 292.37L304.88 289.93" stroke="#000000" stroke-width="0.55" fill="none"/><path d="M315.45 289.93L317.89 292.37M315.45 292.37L317.89 289.93" stroke="#000000" stroke-width="0.55" fill="none"/><path d="M328.46 289.93L330.89 292.37M328.46 292.37L330.89 289.93" stroke="#000000" stroke-width="0.55" fill="none"/><path d="M341.47 289.93L343.90 292.37M341.47 292.37L343.90 289.93" stroke="#000000" stroke-width="0.55" fill="none"/><path d="M354.47 289.93L356.91 292.37M354.47 292.37L356.91 289.93" stroke="#000000" stroke-width="0.55" fill="none"/><path d="M367.48 289.93L369.92 292.37M367.48 292.37L369.92 289.93" stroke="#000000" stroke-width="0.55" fill="none"/><path d="M380.49 289.93L382.93 292.37M380.49 292.37L382.93 289.93" stroke="#000000" stroke-width="0.55" fill="none"/><path d="M393.50 289.93L395.93 292.37M393.50 292.37L395.93 289.93" stroke="#000000" stroke-width="0.55" fill="none"/><path d="M406.51 289.93L408.94 292.37M406.51 292.37L408.94 289.93" stroke="#000000" stroke-width="0.55" fill="none"/><path d="M419.51 289.93L421.95 292.37M419.51 292.37L421.95 289.93" stroke="#000000" stroke-width="0.55" fill="none"/><path d="M432.52 289.93L434.96 292.37M432.52 292.37L434.96 289.93" stroke="#000000" stroke-width="0.55" fill="none"/><path d="M445.53 289.94L447.97 292.37M445.53 292.37L447.97 289.94" stroke="#000000" stroke-width="0.55" fill="none"/><path d="M458.54 289.94L460.97 292.38M458.54 292.38L460.97 289.94" stroke="#000000" stroke-width="0.55" fill="none"/><path d="M471.55 289.95L473.98 292.39M471.55 292.39L473.98 289.95" stroke="#000000" stroke-width="0.55" fill="none"/><path d="M484.55 289.98L486.99 292.41M484.55 292.41L486.99 289.98" stroke="#000000" stroke-width="0.55" fill="none"/><path d="M497.56 290.03L500.00 292.46M497.56 292.46L500.00 290.03" stroke="#000000" stroke-width="0.55" fill="none"/><path d="M510.57 290.13L513.01 292.57M510.57 292.57L513.01 290.13" stroke="#000000" stroke-width="0.55" fill="none"/><path d="M523.58 290.36L526.01 292.80M523.58 292.80L526.01 290.36" stroke="#000000" stroke-width="0.55" fill="none"/><path d="M536.59 290.84L539.02 293.28M536.59 293.28L539.02 290.84" stroke="#000000" stroke-width="0.55" fill="none"/><path d="M549.59 291.86L552.03 294.29M549.59 294.29L552.03 291.86" stroke="#000000" stroke-width="0.55" fill="none"/><path d="M562.60 294.02L565.04 296.45M562.60 296.45L565.04 294.02" stroke="#000000" stroke-width="0.55" fill="none"/><path d="M575.61 298.53L578.05 300.97M575.61 300.97L578.05 298.53" stroke="#000000" stroke-width="0.55" fill="none"/></g>
<path d="M43.5 305.1 45.7 301.2 47.8 297.7 50.0 294.5 52.2 291.7 54.3 289.2 55.4 288.1 57.0 286.5 58.1 285.5 59.8 284.2 62.5 282.2 65.2 280.4 66.8 279.5 68.4 278.7 70.1 277.9 71.7 277.2 74.9 276.0 78.7 274.9 82.5 274.0 86.9 273.1 91.7 272.4 95.5 272.0 99.9 271.6 104.2 271.3 109.1 271.0 114.5 270.8 120.5 270.6 135.6 270.4 151.9 270.3 175.7 270.2 314.5 270.2 453.3 270.2 477.1 270.3 493.4 270.4 508.5 270.6 514.5 270.8 519.9 271.0 524.8 271.3 529.1 271.6 533.5 272.0 537.3 272.4 542.1 273.1 546.5 274.0 550.3 274.9 554.1 276.0 557.3 277.2 558.9 277.9 560.6 278.7 562.2 279.5 563.8 280.4 566.5 282.2 569.2 284.2 570.9 285.5 571.9 286.5 573.6 288.1 574.7 289.2 576.8 291.7 579.0 294.5 581.2 297.7 583.3 301.2 585.5 305.1" fill="none" stroke="#ff0000" stroke-width="1.2" stroke-linejoin="round"/>
<g><path d="M42.11 305.10L44.89 305.10M43.50 303.71L43.50 306.49M42.53 304.13L44.47 306.07M42.53 306.07L44.47 304.13" stroke="#ff0000" stroke-width="0.45" fill="none"/><path d="M55.12 287.03L57.90 287.03M56.51 285.63L56.51 288.42M55.53 286.05L57.48 288.00M55.53 288.00L57.48 286.05" stroke="#ff0000" stroke-width="0.45" fill="none"/><path d="M68.12 278.18L70.91 278.18M69.52 276.79L69.52 279.57M68.54 277.20L70.49 279.15M68.54 279.15L70.49 277.20" stroke="#ff0000" stroke-width="0.45" fill="none"/><path d="M81.13 273.97L83.92 273.97M82.52 272.58L82.52 275.36M81.55 273.00L83.50 274.95M81.55 274.95L83.50 273.00" stroke="#ff0000" stroke-width="0.45" fill="none"/><path d="M94.14 271.99L96.92 271.99M95.53 270.60L95.53 273.38M94.56 271.01L96.51 272.96M94.56 272.96L96.51 271.01" stroke="#ff0000" stroke-width="0.45" fill="none"/><path d="M107.15 271.06L109.93 271.06M108.54 269.66L108.54 272.45M107.57 270.08L109.51 272.03M107.57 272.03L109.51 270.08" stroke="#ff0000" stroke-width="0.45" fill="none"/><path d="M120.16 270.62L122.94 270.62M121.55 269.22L121.55 272.01M120.57 269.64L122.52 271.59M120.57 271.59L122.52 269.64" stroke="#ff0000" stroke-width="0.45" fill="none"/><path d="M133.16 270.41L135.95 270.41M134.56 269.02L134.56 271.80M133.58 269.44L135.53 271.38M133.58 271.38L135.53 269.44" stroke="#ff0000" stroke-width="0.45" fill="none"/><path d="M146.17 270.31L148.96 270.31M147.56 268.92L147.56 271.70M146.59 269.34L148.54 271.29M146.59 271.29L148.54 269.34" stroke="#ff0000" stroke-width="0.45" fill="none"/><path d="M159.18 270.27L161.96 270.27M160.57 268.87L160.57 271.66M159.60 269.29L161.55 271.24M159.60 271.24L161.55 269.29" stroke="#ff0000" stroke-width="0.45" fill="none"/><path d="M172.19 270.25L174.97 270.25M173.58 268.85L173.58 271.64M172.61 269.27L174.55 271.22M172.61 271.22L174.55 269.27" stroke="#ff0000" stroke-width="0.45" fill="none"/><path d="M185.20 270.23L187.98 270.23M186.59 268.84L186.59 271.63M185.61 269.26L187.56 271.21M185.61 271.21L187.56 269.26" stroke="#ff0000" stroke-width="0.45" fill="none"/><path d="M198.20 270.23L200.99 270.23M199.60 268.84L199.60 271.62M198.62 269.26L200.57 271.20M198.62 271.20L200.57 269.26" stroke="#ff0000" stroke-width="0.45" fill="none"/><path d="M211.21 270.23L214.00 270.23M212.60 268.84L212.60 271.62M211.63 269.25L213.58 271.20M211.63 271.20L213.58 269.25" stroke="#ff0000" stroke-width="0.45" fill="none"/><path d="M224.22 270.23L227.00 270.23M225.61 268.83L225.61 271.62M224.64 269.25L226.59 271.20M224.64 271.20L226.59 269.25" stroke="#ff0000" stroke-width="0.45" fill="none"/><path d="M237.23 270.23L240.01 270.23M238.62 268.83L238.62 271.62M237.65 269.25L239.59 271.20M237.65 271.20L239.59 269.25" stroke="#ff0000" stroke-width="0.45" fill="none"/><path d="M250.24 270.23L253.02 270.23M251.63 268.83L251.63 271.62M250.65 269.25L252.60 271.20M250.65 271.20L252.60 269.25" stroke="#ff0000" stroke-width="0.45" fill="none"/><path d="M263.24 270.23L266.03 270.23M264.64 268.83L264.64 271.62M263.66 269.25L265.61 271.20M263.66 271.20L265.61 269.25" stroke="#ff0000" stroke-width="0.45" fill="none"/><path d="M276.25 270.23L279.04 270.23M277.64 268.83L277.64 271.62M276.67 269.25L278.62 271.20M276.67 271.20L278.62 269.25" stroke="#ff0000" stroke-width="0.45" fill="none"/><path d="M289.26 270.23L292.04 270.23M290.65 268.83L290.65 271.62M289.68 269.25L291.63 271.20M289.68 271.20L291.63 269.25" stroke="#ff0000" stroke-width="0.45" fill="none"/><path d="M302.27 270.23L305.05 270.23M303.66 268.83L303.66 271.62M302.69 269.25L304.63 271.20M302.69 271.20L304.63 269.25" stroke="#ff0000" stroke-width="0.45" fill="none"/><path d="M315.28 270.23L318.06 270.23M316.67 268.83L316.67 271.62M315.69 269.25L317.64 271.20M315.69 271.20L317.64 269.25" stroke="#ff0000" stroke-width="0.45" fill="none"/><path d="M328.28 270.23L331.07 270.23M329.68 268.83L329.68 271.62M328.70 269.25L330.65 271.20M328.70 271.20L330.65 269.25" stroke="#ff0000" stroke-width="0.45" fill="none"/><path d="M341.29 270.23L344.08 270.23M342.68 268.83L342.68 271.62M341.71 269.25L343.66 271.20M341.71 271.20L343.66 269.25" stroke="#ff0000" stroke-width="0.45" fill="none"/><path d="M354.30 270.23L357.08 270.23M355.69 268.83L355.69 271.62M354.72 269.25L356.67 271.20M354.72 271.20L356.67 269.25" stroke="#ff0000" stroke-width="0.45" fill="none"/><path d="M367.31 270.23L370.09 270.23M368.70 268.83L368.70 271.62M367.73 269.25L369.67 271.20M367.73 271.20L369.67 269.25" stroke="#ff0000" stroke-width="0.45" fill="none"/><path d="M380.32 270.23L383.10 270.23M381.71 268.83L381.71 271.62M380.73 269.25L382.68 271.20M380.73 271.20L382.68 269.25" stroke="#ff0000" stroke-width="0.45" fill="none"/><path d="M393.32 270.23L396.11 270.23M394.72 268.83L394.72 271.62M393.74 269.25L395.69 271.20M393.74 271.20L395.69 269.25" stroke="#ff0000" stroke-width="0.45" fill="none"/><path d="M406.33 270.23L409.12 270.23M407.72 268.84L407.72 271.62M406.75 269.25L408.70 271.20M406.75 271.20L408.70 269.25" stroke="#ff0000" stroke-width="0.45" fill="none"/><path d="M419.34 270.23L422.12 270.23M420.73 268.84L420.73 271.62M419.76 269.25L421.71 271.20M419.76 271.20L421.71 269.25" stroke="#ff0000" stroke-width="0.45" fill="none"/><path d="M432.35 270.23L435.13 270.23M433.74 268.84L433.74 271.62M432.77 269.26L434.71 271.21M432.77 271.21L434.71 269.26" stroke="#ff0000" stroke-width="0.45" fill="none"/><path d="M445.36 270.24L448.14 270.24M446.75 268.85L446.75 271.63M445.77 269.26L447.72 271.21M445.77 271.21L447.72 269.26" stroke="#ff0000" stroke-width="0.45" fill="none"/><path d="M458.36 270.25L461.15 270.25M459.76 268.86L459.76 271.64M458.78 269.28L460.73 271.22M458.78 271.22L460.73 269.28" stroke="#ff0000" stroke-width="0.45" fill="none"/><path d="M471.37 270.28L474.16 270.28M472.76 268.89L472.76 271.67M471.79 269.30L473.74 271.25M471.79 271.25L473.74 269.30" stroke="#ff0000" stroke-width="0.45" fill="none"/><path d="M484.38 270.34L487.16 270.34M485.77 268.95L485.77 271.73M484.80 269.36L486.75 271.31M484.80 271.31L486.75 269.36" stroke="#ff0000" stroke-width="0.45" fill="none"/><path d="M497.39 270.46L500.17 270.46M498.78 269.07L498.78 271.85M497.81 269.49L499.75 271.44M497.81 271.44L499.75 269.49" stroke="#ff0000" stroke-width="0.45" fill="none"/><path d="M510.40 270.73L513.18 270.73M511.79 269.34L511.79 272.12M510.81 269.75L512.76 271.70M510.81 271.70L512.76 269.75" stroke="#ff0000" stroke-width="0.45" fill="none"/><path d="M523.40 271.29L526.19 271.29M524.80 269.90L524.80 272.68M523.82 270.32L525.77 272.27M523.82 272.27L525.77 270.32" stroke="#ff0000" stroke-width="0.45" fill="none"/><path d="M536.41 272.49L539.20 272.49M537.80 271.10L537.80 273.89M536.83 271.52L538.78 273.47M536.83 273.47L538.78 271.52" stroke="#ff0000" stroke-width="0.45" fill="none"/><path d="M549.42 275.04L552.20 275.04M550.81 273.65L550.81 276.43M549.84 274.07L551.79 276.02M549.84 276.02L551.79 274.07" stroke="#ff0000" stroke-width="0.45" fill="none"/><path d="M562.43 280.44L565.21 280.44M563.82 279.05L563.82 281.83M562.85 279.46L564.79 281.41M562.85 281.41L564.79 279.46" stroke="#ff0000" stroke-width="0.45" fill="none"/><path d="M575.44 291.72L578.22 291.72M576.83 290.33L576.83 293.12M575.85 290.75L577.80 292.70M575.85 292.70L577.80 290.75" stroke="#ff0000" stroke-width="0.45" fill="none"/></g>
<path d="M43.5 305.1 45.7 299.6 47.8 294.7 50.0 290.3 52.2 286.4 54.3 282.9 55.4 281.3 57.0 279.1 58.1 277.7 59.8 275.8 60.8 274.6 62.5 273.0 63.6 272.0 65.2 270.6 66.8 269.3 68.4 268.1 70.1 267.1 71.7 266.1 73.3 265.2 74.9 264.4 76.6 263.7 78.7 262.8 80.4 262.2 82.5 261.5 84.7 260.9 86.9 260.4 89.0 259.9 91.7 259.4 95.5 258.7 99.9 258.2 104.2 257.8 109.1 257.4 114.5 257.1 120.5 256.9 127.5 256.7 135.6 256.5 151.9 256.4 175.7 256.3 314.5 256.3 453.3 256.3 477.1 256.4 493.4 256.5 501.5 256.7 508.5 256.9 514.5 257.1 519.9 257.4 524.8 257.8 529.1 258.2 533.5 258.7 537.3 259.4 540.0 259.9 542.1 260.4 544.3 260.9 546.5 261.5 548.6 262.2 550.3 262.8 552.4 263.7 554.1 264.4 555.7 265.2 557.3 266.1 558.9 267.1 560.6 268.1 562.2 269.3 563.8 270.6 565.4 272.0 566.5 273.0 568.2 274.6 569.2 275.8 570.9 277.7 571.9 279.1 573.6 281.3 574.7 282.9 576.8 286.4 579.0 290.3 581.2 294.7 583.3 299.6 585.5 305.1" fill="none" stroke="#ff00ff" stroke-width="1.2" stroke-linejoin="round"/>
<g><path d="M43.50 303.71L44.75 306.07L42.25 306.07Z" fill="#fff" stroke="#ff00ff" stroke-width="0.56"/><path d="M56.51 278.41L57.76 280.77L55.26 280.77Z" fill="#fff" stroke="#ff00ff" stroke-width="0.56"/><path d="M69.52 266.02L70.77 268.38L68.26 268.38Z" fill="#fff" stroke="#ff00ff" stroke-width="0.56"/><path d="M82.52 260.13L83.78 262.50L81.27 262.50Z" fill="#fff" stroke="#ff00ff" stroke-width="0.56"/><path d="M95.53 257.35L96.78 259.72L94.28 259.72Z" fill="#fff" stroke="#ff00ff" stroke-width="0.56"/><path d="M108.54 256.05L109.79 258.41L107.29 258.41Z" fill="#fff" stroke="#ff00ff" stroke-width="0.56"/><path d="M121.55 255.43L122.80 257.80L120.30 257.80Z" fill="#fff" stroke="#ff00ff" stroke-width="0.56"/><path d="M134.56 255.14L135.81 257.51L133.30 257.51Z" fill="#fff" stroke="#ff00ff" stroke-width="0.56"/><path d="M147.56 255.01L148.82 257.37L146.31 257.37Z" fill="#fff" stroke="#ff00ff" stroke-width="0.56"/><path d="M160.57 254.94L161.82 257.31L159.32 257.31Z" fill="#fff" stroke="#ff00ff" stroke-width="0.56"/><path d="M173.58 254.91L174.83 257.28L172.33 257.28Z" fill="#fff" stroke="#ff00ff" stroke-width="0.56"/><path d="M186.59 254.90L187.84 257.26L185.34 257.26Z" fill="#fff" stroke="#ff00ff" stroke-width="0.56"/><path d="M199.60 254.89L200.85 257.26L198.34 257.26Z" fill="#fff" stroke="#ff00ff" stroke-width="0.56"/><path d="M212.60 254.89L213.86 257.25L211.35 257.25Z" fill="#fff" stroke="#ff00ff" stroke-width="0.56"/><path d="M225.61 254.89L226.86 257.25L224.36 257.25Z" fill="#fff" stroke="#ff00ff" stroke-width="0.56"/><path d="M238.62 254.88L239.87 257.25L237.37 257.25Z" fill="#fff" stroke="#ff00ff" stroke-width="0.56"/><path d="M251.63 254.88L252.88 257.25L250.38 257.25Z" fill="#fff" stroke="#ff00ff" stroke-width="0.56"/><path d="M264.64 254.88L265.89 257.25L263.38 257.25Z" fill="#fff" stroke="#ff00ff" stroke-width="0.56"/><path d="M277.64 254.88L278.90 257.25L276.39 257.25Z" fill="#fff" stroke="#ff00ff" stroke-width="0.56"/><path d="M290.65 254.88L291.90 257.25L289.40 257.25Z" fill="#fff" stroke="#ff00ff" stroke-width="0.56"/><path d="M303.66 254.88L304.91 257.25L302.41 257.25Z" fill="#fff" stroke="#ff00ff" stroke-width="0.56"/><path d="M316.67 254.88L317.92 257.25L315.42 257.25Z" fill="#fff" stroke="#ff00ff" stroke-width="0.56"/><path d="M329.68 254.88L330.93 257.25L328.42 257.25Z" fill="#fff" stroke="#ff00ff" stroke-width="0.56"/><path d="M342.68 254.88L343.94 257.25L341.43 257.25Z" fill="#fff" stroke="#ff00ff" stroke-width="0.56"/><path d="M355.69 254.88L356.94 257.25L354.44 257.25Z" fill="#fff" stroke="#ff00ff" stroke-width="0.56"/><path d="M368.70 254.88L369.95 257.25L367.45 257.25Z" fill="#fff" stroke="#ff00ff" stroke-width="0.56"/><path d="M381.71 254.88L382.96 257.25L380.46 257.25Z" fill="#fff" stroke="#ff00ff" stroke-width="0.56"/><path d="M394.72 254.89L395.97 257.25L393.46 257.25Z" fill="#fff" stroke="#ff00ff" stroke-width="0.56"/><path d="M407.72 254.89L408.98 257.25L406.47 257.25Z" fill="#fff" stroke="#ff00ff" stroke-width="0.56"/><path d="M420.73 254.89L421.98 257.25L419.48 257.25Z" fill="#fff" stroke="#ff00ff" stroke-width="0.56"/><path d="M433.74 254.89L434.99 257.26L432.49 257.26Z" fill="#fff" stroke="#ff00ff" stroke-width="0.56"/><path d="M446.75 254.90L448.00 257.27L445.50 257.27Z" fill="#fff" stroke="#ff00ff" stroke-width="0.56"/><path d="M459.76 254.92L461.01 257.29L458.50 257.29Z" fill="#fff" stroke="#ff00ff" stroke-width="0.56"/><path d="M472.76 254.96L474.02 257.32L471.51 257.32Z" fill="#fff" stroke="#ff00ff" stroke-width="0.56"/><path d="M485.77 255.04L487.02 257.41L484.52 257.41Z" fill="#fff" stroke="#ff00ff" stroke-width="0.56"/><path d="M498.78 255.21L500.03 257.58L497.53 257.58Z" fill="#fff" stroke="#ff00ff" stroke-width="0.56"/><path d="M511.79 255.59L513.04 257.95L510.54 257.95Z" fill="#fff" stroke="#ff00ff" stroke-width="0.56"/><path d="M524.80 256.38L526.05 258.74L523.54 258.74Z" fill="#fff" stroke="#ff00ff" stroke-width="0.56"/><path d="M537.80 258.06L539.06 260.42L536.55 260.42Z" fill="#fff" stroke="#ff00ff" stroke-width="0.56"/><path d="M550.81 261.63L552.06 263.99L549.56 263.99Z" fill="#fff" stroke="#ff00ff" stroke-width="0.56"/><path d="M563.82 269.18L565.07 271.55L562.57 271.55Z" fill="#fff" stroke="#ff00ff" stroke-width="0.56"/><path d="M576.83 284.98L578.08 287.35L575.58 287.35Z" fill="#fff" stroke="#ff00ff" stroke-width="0.56"/></g>
</g>
<rect x="43.5" y="246.25" width="542.00" height="58.85" fill="none" stroke="#000" stroke-width="1.3"/>
<g font-family='"Liberation Sans", sans-serif' font-size="11.65" fill="#000">
<text x="498.8" y="151.5">conditions</text>
<line x1="499.00" y1="164.30" x2="521.00" y2="164.30" stroke="#0000ff" stroke-width="1.2"/>
<circle cx="510.00" cy="164.30" r="1.90" fill="#fff" stroke="#0000ff" stroke-width="0.70"/>
<text x="524.4" y="168.3">A1</text>
<line x1="544.50" y1="164.30" x2="566.80" y2="164.30" stroke="#000000" stroke-width="1.2"/>
<path d="M553.55 162.20L557.75 166.40M553.55 166.40L557.75 162.20" stroke="#000000" stroke-width="0.7" fill="none"/>
<text x="570.2" y="168.3">A2</text>
<line x1="499.00" y1="181.00" x2="521.00" y2="181.00" stroke="#ff0000" stroke-width="1.2"/>
<path d="M507.60 181.00L512.40 181.00M510.00 178.60L510.00 183.40M508.32 179.32L511.68 182.68M508.32 182.68L511.68 179.32" stroke="#ff0000" stroke-width="0.7" fill="none"/>
<text x="524.4" y="185">A3</text>
<line x1="544.50" y1="181.00" x2="566.80" y2="181.00" stroke="#ff00ff" stroke-width="1.2"/>
<path d="M555.65 178.60L557.81 182.68L553.49 182.68Z" fill="#fff" stroke="#ff00ff" stroke-width="0.70"/>
<text x="570.2" y="185">A4</text>
</g>
<g font-family='"Liberation Sans", sans-serif' font-size="14" fill="#000">
<text x="297.6" y="119.8" xml:space="preserve">y  (µ<tspan dx="1.8">m)</tspan></text>
<text x="240.3" y="220.6" xml:space="preserve">u  (µ<tspan dx="1.8">m/s)</tspan></text>
<text x="300.6" y="331.8" font-size="13.2" xml:space="preserve">y  (µ<tspan dx="1.4">m)</tspan></text>
<text transform="translate(14,87.2) rotate(-90)" xml:space="preserve">z  (µ<tspan dx="1.8">m)</tspan></text>
<text transform="translate(16.7,186.2) rotate(-90)" xml:space="preserve">z  (µ<tspan dx="1.8">m)</tspan></text>
<text transform="translate(11.5,302) rotate(-90)" font-size="13.2" xml:space="preserve">u (µ<tspan dx="0.8">m/s)</tspan></text>
</g>
<g font-family='"Liberation Sans", sans-serif' font-size="20.5" font-weight="bold" fill="#000">
<text x="3" y="18.8">a</text><text x="3.1" y="133.8">b</text><text x="4.4" y="234.4">c</text>
</g>
</svg>
</body></html>
